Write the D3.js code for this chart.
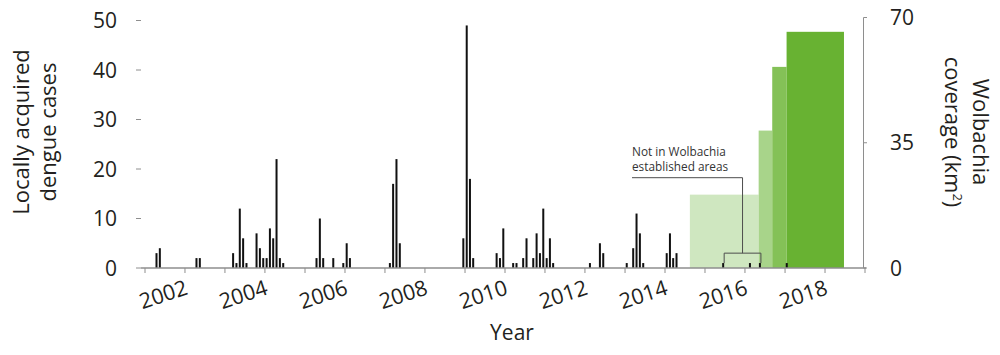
<!DOCTYPE html>
<html>
<head>
<meta charset="utf-8">
<script src="https://cdn.jsdelivr.net/npm/d3@7"></script>
<style>
  html, body { margin: 0; padding: 0; background: #fff; }
  svg { display: block; font-family: "Open Sans", "DejaVu Sans", sans-serif; }
</style>
</head>
<body>
<svg id="chart" width="1000" height="355"></svg>
<script>
// ---- Data ----
const months = ["2001-04","2001-05","2002-04","2002-05",
  "2003-03","2003-04","2003-05","2003-06","2003-07","2003-10","2003-11","2003-12",
  "2004-01","2004-02","2004-03","2004-04","2004-05","2004-06",
  "2005-04","2005-05","2005-06","2005-09","2005-12","2006-01","2006-02",
  "2007-02","2007-03","2007-04","2007-05",
  "2008-12","2009-01","2009-02","2009-03","2009-10","2009-11","2009-12",
  "2010-03","2010-04","2010-06","2010-07","2010-09","2010-10","2010-11","2010-12",
  "2011-01","2011-02","2011-03",
  "2012-02","2012-05","2012-06",
  "2013-01","2013-03","2013-04","2013-05","2013-06",
  "2014-01","2014-02","2014-03","2014-04",
  "2015-06","2016-02","2016-05","2017-01"];
const cases = [3,4,2,2,
  3,1,12,6,1,7,4,2,
  2,8,6,22,2,1,
  2,10,2,2,1,5,2,
  1,17,22,5,
  6,49,18,2,3,2,8,
  1,1,2,6,2,7,3,12,
  2,6,1,
  1,5,3,
  1,4,11,7,1,
  3,7,2,3,
  1,1,1,1];
// Cases outside Wolbachia-established areas (bracketed)
const notInAreaMonths = ["2015-06","2016-05"];

// Wolbachia coverage steps (km²)
const coverageStart = ["2014-08-16","2016-05-05","2016-09-06","2017-01-15"];
const coverageEnd   = ["2016-05-05","2016-09-06","2017-01-15","2018-06-23"];
const coverageKm2   = [20.5, 38.4, 56.2, 66];
const coverageColors = ["#cfe7c0","#a8d48a","#84c157","#68b232"];

const yearTicks = d3.range(2001, 2020);
const yearLabels = d3.range(2002, 2019, 2);
const leftTicks = [0,10,20,30,40,50];
const rightTicks = [0,35,70];

// ---- Layout ----
const svg = d3.select("#chart");
const parse = d3.timeParse("%Y-%m-%d");
const parseM = d3.timeParse("%Y-%m");

const x = d3.scaleTime()
  .domain([new Date(2001,0,1), new Date(2019,0,1)])
  .range([145, 865]);
const yL = d3.scaleLinear().domain([0,50]).range([268, 20.5]);
const yR = d3.scaleLinear().domain([0,70]).range([268, 17.5]);

const axisColor = "#8e8e8e";
const textColor = "#231f20";
const barW = 2;

function monthCenter(s) {
  const d = parseM(s);
  const n = d3.timeMonth.offset(d, 1);
  return (x(d) + x(n)) / 2;
}

// coverage rectangles
svg.append("g").selectAll("rect")
  .data(coverageKm2)
  .join("rect")
  .attr("x", (d,i) => x(parse(coverageStart[i])))
  .attr("width", (d,i) => x(parse(coverageEnd[i])) - x(parse(coverageStart[i])))
  .attr("y", d => yR(d))
  .attr("height", d => yR(0) - yR(d))
  .attr("fill", (d,i) => coverageColors[i]);

// case bars
svg.append("g").selectAll("rect")
  .data(cases)
  .join("rect")
  .attr("x", (d,i) => monthCenter(months[i]) - barW/2)
  .attr("width", barW)
  .attr("y", d => yL(d))
  .attr("height", d => yL(0) - yL(d))
  .attr("fill", "#111");

// x axis
svg.append("line")
  .attr("x1", 141).attr("x2", 866)
  .attr("y1", yL(0)).attr("y2", yL(0))
  .attr("stroke", axisColor).attr("stroke-width", 1.6);
svg.append("g").selectAll("line")
  .data(yearTicks)
  .join("line")
  .attr("x1", d => x(new Date(d,0,1))).attr("x2", d => x(new Date(d,0,1)))
  .attr("y1", yL(0)).attr("y2", yL(0) + 5)
  .attr("stroke", axisColor).attr("stroke-width", 1);
svg.append("g").selectAll("text")
  .data(yearLabels)
  .join("text")
  .attr("transform", d => `translate(${x(new Date(d,0,1)) + 4},294) rotate(-18)`)
  .attr("text-anchor", "end")
  .attr("font-size", 21.5)
  .attr("fill", textColor)
  .text(d => d);
svg.append("text")
  .attr("x", 512).attr("y", 340)
  .attr("text-anchor", "middle")
  .attr("font-size", 21)
  .attr("fill", textColor)
  .text("Year");

// left axis
svg.append("g").selectAll("line")
  .data(leftTicks)
  .join("line")
  .attr("x1", 136).attr("x2", 141)
  .attr("y1", d => yL(d)).attr("y2", d => yL(d))
  .attr("stroke", axisColor).attr("stroke-width", 1);
svg.append("g").selectAll("text")
  .data(leftTicks)
  .join("text")
  .attr("x", 117).attr("y", d => yL(d))
  .attr("dy", "0.36em")
  .attr("text-anchor", "end")
  .attr("font-size", 21)
  .attr("fill", textColor)
  .text(d => d);
const lt = svg.append("text")
  .attr("transform", "translate(29,132) rotate(-90)")
  .attr("text-anchor", "middle")
  .attr("font-size", 22)
  .attr("fill", textColor);
lt.append("tspan").attr("x", 0).attr("y", 0).text("Locally acquired");
lt.append("tspan").attr("x", 0).attr("y", 27).text("dengue cases");

// right axis
svg.append("line")
  .attr("x1", 863.5).attr("x2", 863.5)
  .attr("y1", yR(70)).attr("y2", yR(0))
  .attr("stroke", axisColor).attr("stroke-width", 1);
svg.append("g").selectAll("line")
  .data(rightTicks)
  .join("line")
  .attr("x1", 863.5).attr("x2", 867)
  .attr("y1", d => yR(d)).attr("y2", d => yR(d))
  .attr("stroke", axisColor).attr("stroke-width", 1);
svg.append("g").selectAll("text")
  .data(rightTicks)
  .join("text")
  .attr("x", 890).attr("y", d => yR(d))
  .attr("dy", "0.36em")
  .attr("font-size", 21)
  .attr("fill", textColor)
  .text(d => d);
const rt = svg.append("text")
  .attr("transform", "translate(973,132) rotate(90)")
  .attr("text-anchor", "middle")
  .attr("font-size", 22)
  .attr("fill", textColor);
rt.append("tspan").attr("x", 0).attr("y", 0).text("Wolbachia");
const rt2 = rt.append("tspan").attr("x", 0).attr("y", 28);
rt2.append("tspan").text("coverage (km");
rt2.append("tspan").attr("font-size", 13).attr("dy", -8).text("2");
rt2.append("tspan").attr("dy", 8).text(")");

// annotation bracket
const bx1 = monthCenter(notInAreaMonths[0]) + 1;
const bx2 = monthCenter(notInAreaMonths[1]) + 1;
const bmid = (bx1 + bx2) / 2;
const ann = svg.append("g").attr("fill", "none").attr("stroke", "#4d4d4d").attr("stroke-width", 1);
ann.append("path")
  .attr("d", `M${bx1},${yL(1)}V${yL(3)}H${bx2}V${yL(1)}`);
ann.append("path")
  .attr("d", `M${bmid},${yL(3)}V177.7H632`);
const at = svg.append("text")
  .attr("font-size", 11.8)
  .attr("fill", "#333");
at.append("tspan").attr("x", 632).attr("y", 156.3).text("Not in Wolbachia");
at.append("tspan").attr("x", 632).attr("y", 171.3).text("established areas");
</script>
</body>
</html>
